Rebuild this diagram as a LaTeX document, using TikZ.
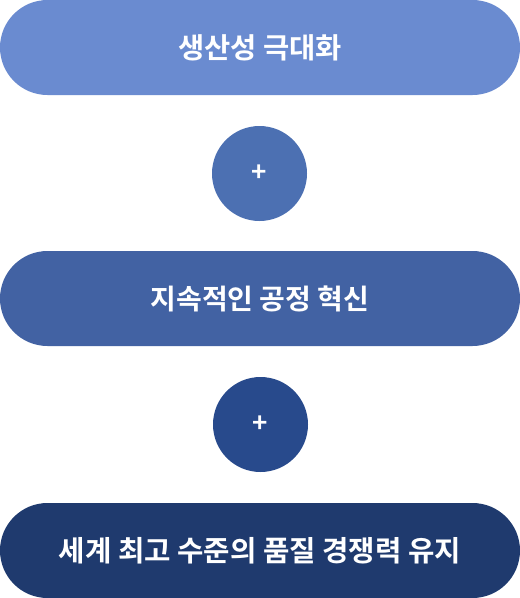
\documentclass[tikz,border=0pt]{standalone}
\usepackage{fontspec}
\setmainfont{Noto Sans CJK KR}
\newfontfamily\krbold{Noto Sans CJK KR Bold}
\definecolor{boxa}{HTML}{6A8BD0}
\definecolor{circa}{HTML}{4C70B2}
\definecolor{boxb}{HTML}{4262A3}
\definecolor{circb}{HTML}{284A8C}
\definecolor{boxc}{HTML}{1F3A6E}
\begin{document}
\begin{tikzpicture}[x=1pt,y=-1pt,
  pill/.style={rectangle, rounded corners=47.5pt, minimum width=520pt, minimum height=95pt, inner sep=0pt, text=white},
  plus/.style={circle, minimum size=95pt, inner sep=0pt, text=white, font=\krbold\fontsize{26pt}{26pt}\selectfont}]
\useasboundingbox (0,0) rectangle (520,598);
\node[pill, fill=boxa, font=\krbold\fontsize{28.5pt}{28.5pt}\selectfont] (b1) at (260,47.5) {생산성 극대화};
\node[plus, fill=circa] (c1) at (259.5,173.5) {+};
\node[pill, fill=boxb, font=\krbold\fontsize{28pt}{28pt}\selectfont] (b2) at (260,298.5) {지속적인 공정 혁신};
\node[plus, fill=circb] (c2) at (260.5,424.5) {+};
\node[pill, fill=boxc, font=\krbold\fontsize{28.7pt}{28.7pt}\selectfont] (b3) at (260,550.5) {세계 최고 수준의 품질 경쟁력 유지};
\end{tikzpicture}
\end{document}
